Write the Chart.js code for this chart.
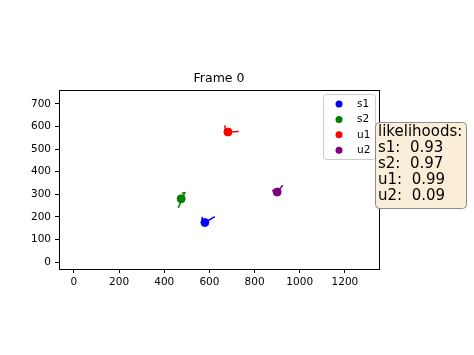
<!DOCTYPE html>
<html>
<head>
<meta charset="utf-8">
<script src="https://cdn.jsdelivr.net/npm/chart.js@4"></script>
<style>
  body { margin: 0; background: #fff; }
</style>
</head>
<body>
<canvas id="frameChart" width="474" height="355"></canvas>
<script>
  // Object names and positions in frame 0
  const names = ['s1', 's2', 'u1', 'u2'];
  const colors = ['#0000ff', '#008000', '#ff0000', '#800080'];
  const posX = [580, 475, 682, 900];
  const posY = [175, 280, 576, 310];

  // Heading segments (start -> end) for each object
  const headX0 = [580, 462, 682, 900];
  const headY0 = [175, 240, 576, 310];
  const headX1 = [624, 490, 730, 925];
  const headY1 = [201, 305, 578, 340];

  // Small side marks next to each dot
  const markX0 = [568, 478, 668, 878];
  const markY0 = [178, 305, 605, 318];
  const markX1 = [568, 495, 672, 893];
  const markY1 = [200, 308, 580, 310];

  const likelihoods = [0.93, 0.97, 0.99, 0.09];

  const xTicks = [0, 200, 400, 600, 800, 1000, 1200];
  const yTicks = [0, 100, 200, 300, 400, 500, 600, 700];

  const font = 'DejaVu Sans';

  const datasets = [];
  names.forEach((n, i) => {
    datasets.push({
      type: 'scatter',
      label: n,
      data: [{ x: posX[i], y: posY[i] }],
      backgroundColor: colors[i],
      borderColor: colors[i],
      pointRadius: 4,
      pointHoverRadius: 4
    });
  });
  names.forEach((n, i) => {
    datasets.push({
      type: 'line',
      label: n + ' heading',
      data: [{ x: headX0[i], y: headY0[i] }, { x: headX1[i], y: headY1[i] }],
      borderColor: colors[i],
      borderWidth: 1.5,
      pointRadius: 0,
      fill: false
    });
    datasets.push({
      type: 'line',
      label: n + ' mark',
      data: [{ x: markX0[i], y: markY0[i] }, { x: markX1[i], y: markY1[i] }],
      borderColor: colors[i],
      borderWidth: 1.5,
      pointRadius: 0,
      fill: false
    });
  });

  function roundRect(ctx, x, y, w, h, r) {
    ctx.beginPath();
    ctx.moveTo(x + r, y);
    ctx.arcTo(x + w, y, x + w, y + h, r);
    ctx.arcTo(x + w, y + h, x, y + h, r);
    ctx.arcTo(x, y + h, x, y, r);
    ctx.arcTo(x, y, x + w, y, r);
    ctx.closePath();
  }

  const extras = {
    id: 'extras',
    afterDraw(chart) {
      const ctx = chart.ctx;
      const a = chart.chartArea;
      ctx.save();
      // frame around the axes
      ctx.strokeStyle = '#000';
      ctx.lineWidth = 1;
      ctx.strokeRect(a.left + 0.5, a.top + 0.5, a.right - a.left, a.bottom - a.top);

      // title, centred over the axes
      ctx.fillStyle = '#000';
      ctx.font = '12.5px ' + font;
      ctx.textAlign = 'center';
      ctx.textBaseline = 'alphabetic';
      ctx.fillText('Frame 0', (a.left + a.right) / 2, 82);

      // legend
      ctx.textAlign = 'left';
      ctx.fillStyle = 'rgba(255,255,255,0.8)';
      ctx.strokeStyle = '#cccccc';
      roundRect(ctx, 323.5, 94.5, 52, 65, 3);
      ctx.fill();
      ctx.stroke();
      ctx.font = '10.5px ' + font;
      ctx.textBaseline = 'middle';
      names.forEach((n, i) => {
        const y = 104 + i * 15.4;
        ctx.beginPath();
        ctx.arc(339, y, 3.5, 0, Math.PI * 2);
        ctx.fillStyle = colors[i];
        ctx.fill();
        ctx.fillStyle = '#000';
        ctx.fillText(n, 357, y);
      });

      // likelihood box
      ctx.fillStyle = '#faeed9';
      ctx.strokeStyle = '#8c8c8c';
      roundRect(ctx, 375.5, 122.5, 91, 86, 4);
      ctx.fill();
      ctx.stroke();
      ctx.fillStyle = '#000';
      ctx.font = '15px ' + font;
      ctx.fillText('likelihoods:', 378, 132);
      names.forEach((n, i) => {
        ctx.fillText(n + ':  ' + likelihoods[i].toFixed(2), 378, 148 + i * 16);
      });
      ctx.restore();
    }
  };

  const ctxFrame = document.getElementById('frameChart').getContext('2d');
  const frameChart = new Chart(ctxFrame, {
    data: { datasets: datasets },
    options: {
      responsive: false,
      animation: false,
      devicePixelRatio: 1,
      layout: { padding: { left: 0, right: 95, top: 90, bottom: 0 } },
      scales: {
        x: {
          type: 'linear',
          min: -66,
          max: 1351,
          afterBuildTicks: (axis) => { axis.ticks = xTicks.map(v => ({ value: v })); },
          afterFit: (s) => { s.height = 86; },
          grid: { drawOnChartArea: false, drawTicks: true, tickLength: 4, color: '#000' },
          border: { color: '#000' },
          ticks: {
            color: '#000',
            font: { family: font, size: 10.5 },
            padding: 3,
            maxRotation: 0,
            callback: (v) => String(v)
          }
        },
        y: {
          type: 'linear',
          min: -31,
          max: 762,
          afterBuildTicks: (axis) => { axis.ticks = yTicks.map(v => ({ value: v })); },
          afterFit: (s) => { s.width = 59; },
          grid: { drawOnChartArea: false, drawTicks: true, tickLength: 4, color: '#000' },
          border: { color: '#000' },
          ticks: {
            color: '#000',
            font: { family: font, size: 10.5 },
            padding: 4,
            callback: (v) => String(v)
          }
        }
      },
      plugins: {
        legend: { display: false },
        tooltip: { enabled: false },
        title: { display: false }
      }
    },
    plugins: [extras]
  });
</script>
</body>
</html>
